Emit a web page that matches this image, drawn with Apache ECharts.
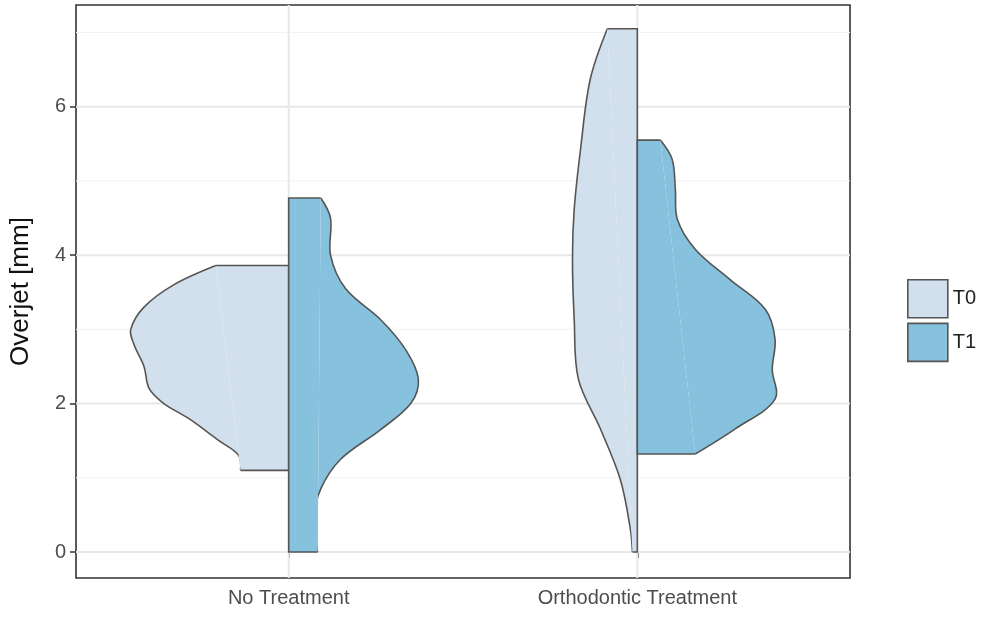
<!DOCTYPE html>
<html><head><meta charset="utf-8">
<script src="https://cdn.jsdelivr.net/npm/echarts@6/dist/echarts.min.js"></script>
<style>html,body{margin:0;background:#fff}#c{width:992px;height:621px}</style>
</head><body><div id="c"></div>
<script>
const categories = ["No Treatment", "Orthodontic Treatment"];
const groups = ["T0", "T1"];
const yTicks = [0, 2, 4, 6];
const yMinor = [1, 3, 5, 7];
// density profiles: [overjet value, half-width in category units]
const noT0 = [[3.86,0.209],[3.6,0.33],[3.3,0.415],[3.0,0.453],[2.8,0.444],[2.5,0.415],[2.2,0.40],[2.0,0.358],[1.8,0.287],[1.5,0.20],[1.3,0.143],[1.1,0.138]];
const noT1 = [[4.77,0.092],[4.5,0.12],[4.0,0.12],[3.55,0.163],[3.13,0.264],[2.73,0.335],[2.33,0.372],[2.0,0.35],[1.65,0.264],[1.25,0.149],[0.85,0.092],[0.45,0.072],[0.0,0.083]];
const orT0 = [[7.05,0.086],[6.37,0.135],[5.42,0.163],[4.62,0.181],[3.95,0.186],[3.13,0.181],[2.33,0.169],[1.66,0.106],[0.98,0.049],[0.31,0.02],[0.0,0.014]];
const orT1 = [[5.55,0.066],[5.29,0.10],[4.89,0.109],[4.48,0.115],[4.08,0.166],[3.67,0.266],[3.27,0.367],[2.87,0.395],[2.46,0.387],[2.06,0.395],[1.66,0.281],[1.32,0.166]];
const profiles = {T0: [noT0, orT0], T1: [noT1, orT1]};
const colors = {T0: "#D1E0EC", T1: "#86C1DD"};

function makeSeries(g, side) {
  return {
    type: "custom", name: g, z: 3,
    itemStyle: {color: colors[g], borderColor: "#555", borderWidth: 1.6},
    data: [[1, 0], [2, 0]],
    renderItem: function (params, api) {
      const idx = params.dataIndex, cx = idx + 1, prof = profiles[g][idx];
      const n = prof.length;
      const out = prof.map(p => api.coord([cx + side * p[1], p[0]]));
      const a = api.coord([cx, prof[0][0]]), b = api.coord([cx, prof[n - 1][0]]);
      return {type: "group", children: [
        {type: "polyline", shape: {points: out, smooth: 0.35},
          style: {fill: colors[g], stroke: "#555", lineWidth: 1.6}},
        {type: "polygon", shape: {points: [a, out[0], out[n - 1], b]},
          style: {fill: colors[g], stroke: null}},
        {type: "polyline", shape: {points: [out[0], a, b, out[n - 1]]},
          style: {fill: null, stroke: "#555", lineWidth: 1.6}}
      ]};
    }
  };
}
const gridSeries = {
  type: "custom", z: 1, silent: true, data: [[0, 0]],
  renderItem: function (params, api) {
    const ch = [];
    yMinor.forEach(v => ch.push({type: "line", shape: {x1: api.coord([0.39, v])[0], y1: api.coord([0.39, v])[1], x2: api.coord([2.61, v])[0], y2: api.coord([2.61, v])[1]}, style: {stroke: "#f2f2f2", lineWidth: 1}}));
    yTicks.forEach(v => ch.push({type: "line", shape: {x1: api.coord([0.39, v])[0], y1: api.coord([0.39, v])[1], x2: api.coord([2.61, v])[0], y2: api.coord([2.61, v])[1]}, style: {stroke: "#e8e8e8", lineWidth: 2}}));
    [1, 2].forEach(v => ch.push({type: "line", shape: {x1: api.coord([v, -0.35])[0], y1: api.coord([v, -0.35])[1], x2: api.coord([v, 7.37])[0], y2: api.coord([v, 7.37])[1]}, style: {stroke: "#e8e8e8", lineWidth: 2}}));
    return {type: "group", children: ch};
  }
};

const chart = echarts.init(document.getElementById("c"));
chart.setOption({
  animation: false,
  textStyle: {fontFamily: "Liberation Sans, Arial, sans-serif"},
  grid: {left: 75, top: 5, width: 775, height: 573, show: true, borderColor: "#333", borderWidth: 1.6, backgroundColor: "#fff"},
  legend: {data: groups, orient: "vertical", left: 902, top: 274, itemWidth: 40, itemHeight: 38, itemGap: 4, icon: "rect",
    textStyle: {fontSize: 20, color: "#222"},
    itemStyle: {borderColor: "#555", borderWidth: 1.6}},
  xAxis: {type: "value", min: 0.39, max: 2.61, splitLine: {show: false},
    axisLine: {show: false},
    axisTick: {show: true, customValues: [1, 2], length: 6, lineStyle: {color: "#333", width: 1.5}},
    axisLabel: {customValues: [1, 2], formatter: v => categories[Math.round(v) - 1], fontSize: 20, color: "#4d4d4d", margin: 10}},
  yAxis: {type: "value", min: -0.35, max: 7.37, splitLine: {show: false},
    name: "Overjet [mm]", nameLocation: "middle", nameGap: 42, nameTextStyle: {fontSize: 26, color: "#111"},
    axisLine: {show: false},
    axisTick: {show: true, customValues: yTicks, length: 6, lineStyle: {color: "#333", width: 1.5}},
    axisLabel: {customValues: yTicks, fontSize: 20, color: "#4d4d4d", margin: 10}},
  series: [gridSeries, makeSeries("T0", -1), makeSeries("T1", 1)]
});
</script></body></html>
